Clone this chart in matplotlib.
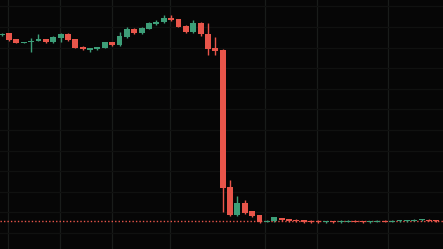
import matplotlib
matplotlib.use("Agg")
import matplotlib.pyplot as plt
import numpy as np

# OHLC per candle
opens = [2.25, 2.27, 2.21, 2.175, 2.18, 2.19, 2.205, 2.18, 2.22, 2.26,
         2.21, 2.13, 2.105, 2.11, 2.12, 2.18, 2.15, 2.23, 2.31, 2.27,
         2.31, 2.36, 2.38, 2.425, 2.41, 2.34, 2.28, 2.375, 2.26, 2.12,
         2.10, 0.73, 0.45, 0.57, 0.49, 0.45, 0.385, 0.39, 0.42, 0.41,
         0.405, 0.40, 0.395, 0.395, 0.38, 0.39, 0.38, 0.385, 0.395, 0.39,
         0.38, 0.385, 0.395, 0.385, 0.39, 0.39, 0.395, 0.40, 0.405, 0.40]
highs = [2.27, 2.275, 2.21, 2.185, 2.22, 2.26, 2.21, 2.24, 2.27, 2.27,
         2.215, 2.14, 2.12, 2.135, 2.185, 2.185, 2.28, 2.33, 2.32, 2.33,
         2.38, 2.40, 2.45, 2.45, 2.415, 2.345, 2.40, 2.385, 2.37, 2.23,
         2.11, 0.80, 0.64, 0.60, 0.495, 0.455, 0.40, 0.435, 0.425, 0.415,
         0.415, 0.405, 0.40, 0.40, 0.395, 0.395, 0.40, 0.405, 0.40, 0.395,
         0.39, 0.40, 0.40, 0.40, 0.40, 0.405, 0.41, 0.41, 0.41, 0.405]
lows = [2.24, 2.19, 2.17, 2.17, 2.08, 2.19, 2.17, 2.17, 2.18, 2.195,
        2.115, 2.105, 2.08, 2.105, 2.115, 2.145, 2.145, 2.225, 2.265, 2.26,
        2.305, 2.35, 2.37, 2.39, 2.325, 2.275, 2.275, 2.24, 2.05, 2.05,
        0.48, 0.44, 0.44, 0.46, 0.43, 0.375, 0.38, 0.38, 0.395, 0.385,
        0.385, 0.375, 0.375, 0.375, 0.375, 0.375, 0.375, 0.38, 0.38, 0.375,
        0.375, 0.38, 0.38, 0.38, 0.385, 0.385, 0.39, 0.39, 0.39, 0.385]
closes = [2.26, 2.20, 2.17, 2.18, 2.195, 2.205, 2.18, 2.225, 2.26, 2.20,
          2.12, 2.11, 2.115, 2.13, 2.18, 2.15, 2.24, 2.31, 2.27, 2.32,
          2.37, 2.38, 2.425, 2.40, 2.33, 2.28, 2.37, 2.26, 2.11, 2.09,
          0.72, 0.45, 0.57, 0.47, 0.44, 0.38, 0.39, 0.43, 0.40, 0.39,
          0.39, 0.38, 0.38, 0.38, 0.39, 0.38, 0.39, 0.39, 0.385, 0.38,
          0.385, 0.39, 0.385, 0.395, 0.395, 0.40, 0.405, 0.405, 0.395, 0.39]

# session separators (in candle units)
vlines = [0.87, 7.9, 15.0, 22.8, 35.7, 42.8, 52.4]

UP = "#3d9e78"
DOWN = "#e8554a"
BG = "#060606"

fig = plt.figure(figsize=(4.43, 2.49), dpi=100, facecolor=BG)
ax = fig.add_axes([0, 0, 1, 1])
ax.set_facecolor(BG)

# grid
for v in vlines:
    ax.axvline(v, color="#191c1a", lw=0.9, zorder=0)
for h in np.arange(0.27, 2.7, 0.206):
    ax.axhline(h, color="#101110", lw=0.9, zorder=0)

o = np.array(opens)
c = np.array(closes)
hi = np.array(highs)
lo = np.array(lows)
x = np.arange(len(o))
up = c >= o
cols = np.where(up, UP, DOWN)

ax.vlines(x, lo, hi, colors=cols, lw=1.0, zorder=2)
bottom = np.minimum(o, c)
height = np.maximum(np.abs(c - o), 0.008)
ax.bar(x, height, bottom=bottom, width=0.8, color=cols, lw=0, zorder=3)

# last price line
ax.axhline(closes[-1], color=DOWN, lw=1.0, ls=(0, (1, 1.5)), zorder=1)

ax.set_xlim(-0.22, 59.9)
ax.set_ylim(0.11, 2.60)
ax.axis("off")

fig.savefig("out.png", dpi=100, facecolor=BG)
